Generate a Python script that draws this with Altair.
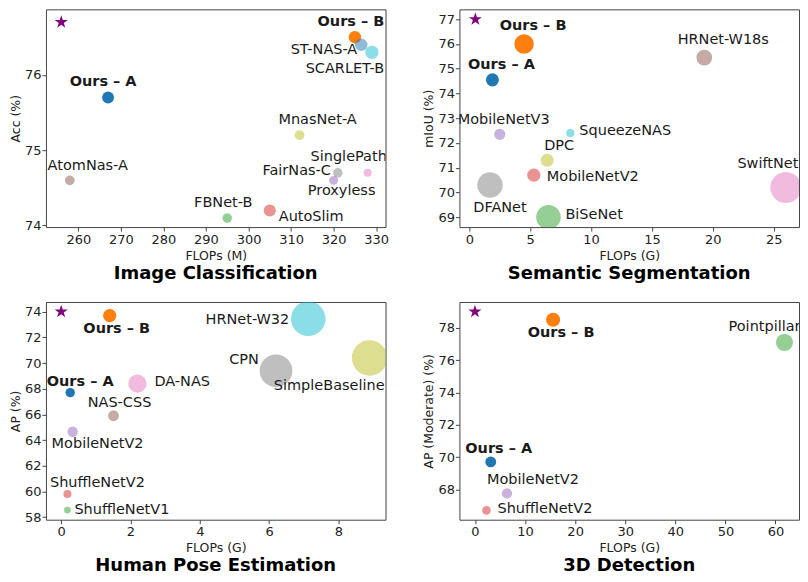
import altair as alt
import pandas as pd

FONT = "DejaVu Sans"

# ---------------- data ----------------
# Image Classification
ic_names = ["AtomNas-A", "FBNet-B", "AutoSlim", "Proxyless", "FairNas-C", "SinglePath",
            "MnasNet-A", "Ours – A", "Ours – B", "ST-NAS-A", "SCARLET-B"]
ic_flops = [258, 295, 305, 320, 321, 328, 312, 267, 325, 326.5, 329]
ic_acc = [74.6, 74.1, 74.2, 74.6, 74.7, 74.7, 75.2, 75.7, 76.5, 76.4, 76.3]

# Semantic Segmentation
ss_names = ["DFANet", "BiSeNet", "MobileNetV2", "DPC", "SqueezeNAS", "MobileNetV3",
            "HRNet-W18s", "SwiftNet", "Ours – A", "Ours – B"]
ss_flops = [1.7, 6.5, 5.3, 6.4, 8.3, 2.5, 19.3, 26.0, 1.9, 4.5]
ss_miou = [70.3, 69.0, 70.7, 71.3, 72.4, 72.35, 75.45, 70.2, 74.55, 76.0]

# Human Pose Estimation
hp_names = ["ShuffleNetV1", "ShuffleNetV2", "MobileNetV2", "NAS-CSS", "DA-NAS", "CPN",
            "HRNet-W32", "SimpleBaseline", "Ours – A", "Ours – B"]
hp_flops = [0.18, 0.18, 0.33, 1.51, 2.2, 6.2, 7.13, 8.9, 0.26, 1.4]
hp_ap = [58.55, 59.8, 64.65, 65.9, 68.4, 69.4, 73.45, 70.4, 67.7, 73.7]

# 3D Detection
dd_names = ["ShuffleNetV2", "MobileNetV2", "Pointpillars", "Ours – A", "Ours – B"]
dd_flops = [2.3, 6.4, 61.8, 3.15, 15.6]
dd_ap = [66.7, 67.75, 77.1, 69.7, 78.5]

# "better" corner star per panel
star_x = [256, 0.5, 0.0, 0.0]
star_y = [76.7, 77.0, 74.0, 79.0]

# ---------------- styles ----------------
TAB = {"blue": "#1f77b4", "orange": "#ff7f0e", "green": "#2ca02c", "red": "#d62728",
       "purple": "#9467bd", "brown": "#8c564b", "pink": "#e377c2", "gray": "#7f7f7f",
       "olive": "#bcbd22", "cyan": "#17becf"}

ic_style = {  # name: (color, marker area px^2)
    "AtomNas-A": ("brown", 95), "FBNet-B": ("green", 90), "AutoSlim": ("red", 147),
    "Proxyless": ("purple", 80), "FairNas-C": ("gray", 90), "SinglePath": ("pink", 64),
    "MnasNet-A": ("olive", 95), "Ours – A": ("blue", 140), "Ours – B": ("orange", 154),
    "ST-NAS-A": ("blue", 154), "SCARLET-B": ("cyan", 177)}
ss_style = {
    "DFANet": ("gray", 646), "BiSeNet": ("green", 602), "MobileNetV2": ("red", 177),
    "DPC": ("olive", 170), "SqueezeNAS": ("cyan", 68), "MobileNetV3": ("purple", 126),
    "HRNet-W18s": ("brown", 246), "SwiftNet": ("pink", 960), "Ours – A": ("blue", 170),
    "Ours – B": ("orange", 380)}
hp_style = {
    "ShuffleNetV1": ("green", 46), "ShuffleNetV2": ("red", 64), "MobileNetV2": ("purple", 107),
    "NAS-CSS": ("brown", 119), "DA-NAS": ("pink", 336), "CPN": ("gray", 1075),
    "HRNet-W32": ("cyan", 1195), "SimpleBaseline": ("olive", 1257), "Ours – A": ("blue", 90),
    "Ours – B": ("orange", 177)}
dd_style = {
    "ShuffleNetV2": ("red", 74), "MobileNetV2": ("purple", 107), "Pointpillars": ("green", 293),
    "Ours – A": ("blue", 119), "Ours – B": ("orange", 201)}

# label placement: name: (align, dx, dy)
ic_lab = {"Ours – A": ("center", -5, -16), "Ours – B": ("center", -4, -15),
          "ST-NAS-A": ("right", -4, 5), "SCARLET-B": ("center", -27, 17),
          "MnasNet-A": ("center", 18, -15), "SinglePath": ("center", -19, -16),
          "FairNas-C": ("right", -7, -2), "Proxyless": ("center", 8, 11),
          "AtomNas-A": ("center", 18, -14), "FBNet-B": ("center", -4, -15),
          "AutoSlim": ("left", 9, 7)}
ss_lab = {"Ours – B": ("center", 9, -18), "Ours – A": ("center", 9, -15),
          "HRNet-W18s": ("center", 19, -18), "MobileNetV3": ("center", 4, -14),
          "SqueezeNAS": ("left", 9, -2), "DPC": ("center", 12, -14),
          "MobileNetV2": ("left", 13, 2), "DFANet": ("center", 10, 23),
          "BiSeNet": ("left", 17, -2), "SwiftNet": ("center", -18, -24)}
hp_lab = {"Ours – B": ("center", 7, 13), "HRNet-W32": ("right", -19, 1),
          "SimpleBaseline": ("right", 15, 28), "CPN": ("center", -32, -11),
          "DA-NAS": ("left", 17, -2), "Ours – A": ("center", 10, -11),
          "NAS-CSS": ("center", 6, -13), "MobileNetV2": ("center", 25, 12),
          "ShuffleNetV2": ("center", 30, -11), "ShuffleNetV1": ("left", 7, 0)}
dd_lab = {"Ours – B": ("center", 8, 13), "Pointpillars": ("left", -56, -15),
          "Ours – A": ("center", 8, -13), "MobileNetV2": ("center", 26, -13),
          "ShuffleNetV2": ("left", 11, -1)}

STAR = ("M0,-1L0.225,-0.309L0.951,-0.309L0.363,0.118L0.588,0.809L0,0.382"
        "L-0.588,0.809L-0.363,0.118L-0.951,-0.309L-0.225,-0.309Z")

W1, W2, H = 340, 340, 218


def panel(names, xs, ys, sx, sy, style, labels, title, xtitle, ytitle,
          xdom, ydom, xticks, yticks, width, height):
    df = pd.DataFrame({
        "name": names, "flops": xs, "score": ys,
        "color": [TAB[style[n][0]] for n in names],
        "area": [style[n][1] for n in names],
        "alpha": [1.0 if n.startswith("Ours") else 0.5 for n in names],
    })
    xenc = alt.X("flops:Q", title=xtitle,
                 scale=alt.Scale(domain=xdom, nice=False, zero=False),
                 axis=alt.Axis(values=xticks, format="d", labelPadding=2, titlePadding=3))
    yenc = alt.Y("score:Q", title=ytitle,
                 scale=alt.Scale(domain=ydom, nice=False, zero=False),
                 axis=alt.Axis(values=yticks, format="d", labelPadding=1, titlePadding=2))
    base = alt.Chart(df).encode(x=xenc, y=yenc)
    pts = base.mark_circle(clip=True, strokeWidth=0).encode(
        size=alt.Size("area:Q", scale=None, legend=None),
        color=alt.Color("color:N", scale=None, legend=None),
        opacity=alt.Opacity("alpha:Q", scale=None, legend=None),
    )
    star = alt.Chart(pd.DataFrame({"flops": [sx], "score": [sy]})).mark_point(
        shape=STAR, filled=True, color="#800080", size=190, opacity=1, strokeWidth=0
    ).encode(x=xenc, y=yenc)
    layers = [pts, star]
    for n in names:
        al, dx, dy = labels[n]
        layers.append(
            base.transform_filter(alt.datum.name == n).mark_text(
                align=al, baseline="middle", dx=dx, dy=dy, clip=True,
                font=FONT, fontSize=14.5, color="#1a1a1a",
                fontWeight="bold" if n.startswith("Ours") else "normal",
            ).encode(text="name:N")
        )
    return alt.layer(*layers).properties(
        width=width, height=height,
        title=alt.TitleParams(title, orient="bottom", anchor="middle", offset=3,
                              font=FONT, fontSize=18, fontWeight="bold", color="#000"),
    )


p1 = panel(ic_names, ic_flops, ic_acc, star_x[0], star_y[0], ic_style, ic_lab,
           "Image Classification", "FLOPs (M)", "Acc (%)",
           [252.4, 332.2], [73.98, 76.87], [260, 270, 280, 290, 300, 310, 320, 330],
           [74, 75, 76], W1, H)
p2 = panel(ss_names, ss_flops, ss_miou, star_x[1], star_y[1], ss_style, ss_lab,
           "Semantic Segmentation", "FLOPs (G)", "mIoU (%)",
           [-0.81, 27.08], [68.6, 77.4], [0, 5, 10, 15, 20, 25],
           [69, 70, 71, 72, 73, 74, 75, 76, 77], W2, H)
p3 = panel(hp_names, hp_flops, hp_ap, star_x[2], star_y[2], hp_style, hp_lab,
           "Human Pose Estimation", "FLOPs (G)", "AP (%)",
           [-0.44, 9.36], [57.8, 74.76], [0, 2, 4, 6, 8],
           [58, 60, 62, 64, 66, 68, 70, 72, 74], W1, H)
p4 = panel(dd_names, dd_flops, dd_ap, star_x[3], star_y[3], dd_style, dd_lab,
           "3D Detection", "FLOPs (G)", "AP (Moderate) (%)",
           [-3.1, 64.7], [66.12, 79.6], [0, 10, 20, 30, 40, 50, 60],
           [68, 70, 72, 74, 76, 78], W2, H)

chart = alt.concat(p1, p2, p3, p4, columns=2, spacing={"row": 75, "column": 74},
                   bounds="flush").properties(
    padding={"left": 0, "top": 0, "right": 0, "bottom": 0}
).configure_view(
    stroke="#444", strokeWidth=1
).configure_axis(
    domain=False, grid=False, ticks=True, tickColor="#444", tickSize=4,
    labelFont=FONT, labelFontSize=13, labelColor="#222",
    titleFont=FONT, titleFontSize=12.5, titleFontWeight="normal", titleColor="#222",
)

chart.save("out.html", embed_options={"renderer": "svg", "actions": False})
